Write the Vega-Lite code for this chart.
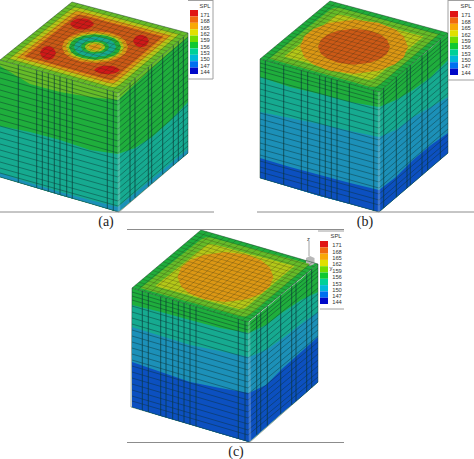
{"$schema":"https://vega.github.io/schema/vega-lite/v6.json","width":474,"height":459,"padding":0,"autosize":"none","background":"white","config":{"view":{"stroke":null}},
"datasets":{
"flat":[
{"g":"a0","c":"159","x":0,"y":60,"y2":60},{"g":"a0","c":"159","x":72,"y":2,"y2":80.2},{"g":"a0","c":"159","x":118,"y":14.3,"y2":93},{"g":"a0","c":"159","x":188,"y":33,"y2":33},
{"g":"b0","c":"156","x":260,"y":59,"y2":59},{"g":"b0","c":"156","x":330,"y":1,"y2":78.4},{"g":"b0","c":"156","x":379,"y":14.3,"y2":92},{"g":"b0","c":"156","x":448,"y":33,"y2":33},
{"g":"c0","c":"156","x":132,"y":288,"y2":288},{"g":"c0","c":"156","x":201,"y":230,"y2":308.2},{"g":"c0","c":"156","x":248,"y":243.6,"y2":322},{"g":"c0","c":"156","x":318,"y":264,"y2":264},
{"g":"a1","c":"159","x":0,"y":60,"y2":177},{"g":"a1","c":"159","x":30,"y":68.4,"y2":186},{"g":"a1","c":"159","x":60,"y":76.8,"y2":195},{"g":"a1","c":"159","x":90,"y":85.2,"y2":203.5},{"g":"a1","c":"159","x":118,"y":93,"y2":212},{"g":"a1","c":"159","x":135,"y":78.4,"y2":197.7},{"g":"a1","c":"159","x":152,"y":64,"y2":183.3},{"g":"a1","c":"159","x":170,"y":48.6,"y2":168.1},{"g":"a1","c":"159","x":188,"y":33,"y2":153},
{"g":"a2","c":"156","x":0,"y":66,"y2":177},{"g":"a2","c":"156","x":30,"y":84,"y2":186},{"g":"a2","c":"156","x":60,"y":92,"y2":195},{"g":"a2","c":"156","x":90,"y":97,"y2":203.5},{"g":"a2","c":"156","x":118,"y":100,"y2":212},{"g":"a2","c":"156","x":135,"y":84,"y2":197.7},{"g":"a2","c":"156","x":152,"y":68,"y2":183.3},{"g":"a2","c":"156","x":170,"y":52,"y2":168.1},{"g":"a2","c":"156","x":188,"y":37,"y2":153},
{"g":"a3","c":"153","x":0,"y":126,"y2":177},{"g":"a3","c":"153","x":30,"y":132,"y2":186},{"g":"a3","c":"153","x":60,"y":140,"y2":195},{"g":"a3","c":"153","x":90,"y":150,"y2":203.5},{"g":"a3","c":"153","x":118,"y":154,"y2":212},{"g":"a3","c":"153","x":135,"y":148,"y2":197.7},{"g":"a3","c":"153","x":152,"y":137,"y2":183.3},{"g":"a3","c":"153","x":170,"y":121,"y2":168.1},{"g":"a3","c":"153","x":188,"y":102,"y2":153},
{"g":"a4","c":"150","x":0,"y":173,"y2":177},{"g":"a4","c":"150","x":30,"y":183,"y2":186},{"g":"a4","c":"150","x":60,"y":192,"y2":195},{"g":"a4","c":"150","x":90,"y":200,"y2":203.5},{"g":"a4","c":"150","x":118,"y":207,"y2":212},{"g":"a4","c":"150","x":135,"y":193,"y2":197.7},{"g":"a4","c":"150","x":152,"y":179,"y2":183.3},{"g":"a4","c":"150","x":170,"y":164,"y2":168.1},{"g":"a4","c":"150","x":188,"y":149,"y2":153},
{"g":"b1","c":"156","x":260,"y":59,"y2":178},{"g":"b1","c":"156","x":290,"y":67,"y2":187},{"g":"b1","c":"156","x":320,"y":75.5,"y2":196},{"g":"b1","c":"156","x":350,"y":83.5,"y2":204},{"g":"b1","c":"156","x":379,"y":92,"y2":212},{"g":"b1","c":"156","x":396,"y":77,"y2":197.5},{"g":"b1","c":"156","x":413,"y":63,"y2":183},{"g":"b1","c":"156","x":431,"y":48,"y2":167.5},{"g":"b1","c":"156","x":448,"y":33,"y2":153},
{"g":"b2","c":"153","x":260,"y":77,"y2":178},{"g":"b2","c":"153","x":290,"y":87,"y2":187},{"g":"b2","c":"153","x":320,"y":94,"y2":196},{"g":"b2","c":"153","x":350,"y":102,"y2":204},{"g":"b2","c":"153","x":379,"y":107,"y2":212},{"g":"b2","c":"153","x":396,"y":100,"y2":197.5},{"g":"b2","c":"153","x":413,"y":90,"y2":183},{"g":"b2","c":"153","x":431,"y":77,"y2":167.5},{"g":"b2","c":"153","x":448,"y":60,"y2":153},
{"g":"b3","c":"150","x":260,"y":112,"y2":178},{"g":"b3","c":"150","x":290,"y":118,"y2":187},{"g":"b3","c":"150","x":320,"y":124,"y2":196},{"g":"b3","c":"150","x":350,"y":131,"y2":204},{"g":"b3","c":"150","x":379,"y":137,"y2":212},{"g":"b3","c":"150","x":396,"y":130,"y2":197.5},{"g":"b3","c":"150","x":413,"y":117,"y2":183},{"g":"b3","c":"150","x":431,"y":107,"y2":167.5},{"g":"b3","c":"150","x":448,"y":97,"y2":153},
{"g":"b4","c":"147","x":260,"y":158,"y2":178},{"g":"b4","c":"147","x":290,"y":167,"y2":187},{"g":"b4","c":"147","x":320,"y":175,"y2":196},{"g":"b4","c":"147","x":350,"y":183,"y2":204},{"g":"b4","c":"147","x":379,"y":190,"y2":212},{"g":"b4","c":"147","x":396,"y":177,"y2":197.5},{"g":"b4","c":"147","x":413,"y":160,"y2":183},{"g":"b4","c":"147","x":431,"y":145,"y2":167.5},{"g":"b4","c":"147","x":448,"y":133,"y2":153},
{"g":"c1","c":"156","x":132,"y":288,"y2":407},{"g":"c1","c":"156","x":161,"y":296.5,"y2":416},{"g":"c1","c":"156","x":190,"y":305,"y2":424.5},{"g":"c1","c":"156","x":220,"y":313.5,"y2":433.5},{"g":"c1","c":"156","x":249,"y":322,"y2":442},{"g":"c1","c":"156","x":266,"y":308,"y2":427},{"g":"c1","c":"156","x":283,"y":293.5,"y2":412},{"g":"c1","c":"156","x":301,"y":279,"y2":397},{"g":"c1","c":"156","x":318,"y":264,"y2":382},
{"g":"c2","c":"153","x":132,"y":305,"y2":407},{"g":"c2","c":"153","x":161,"y":312,"y2":416},{"g":"c2","c":"153","x":190,"y":320,"y2":424.5},{"g":"c2","c":"153","x":220,"y":328,"y2":433.5},{"g":"c2","c":"153","x":249,"y":333,"y2":442},{"g":"c2","c":"153","x":266,"y":325,"y2":427},{"g":"c2","c":"153","x":283,"y":312,"y2":412},{"g":"c2","c":"153","x":301,"y":300,"y2":397},{"g":"c2","c":"153","x":318,"y":292,"y2":382},
{"g":"c3","c":"150","x":132,"y":327,"y2":407},{"g":"c3","c":"150","x":161,"y":336,"y2":416},{"g":"c3","c":"150","x":190,"y":345,"y2":424.5},{"g":"c3","c":"150","x":220,"y":351,"y2":433.5},{"g":"c3","c":"150","x":249,"y":357,"y2":442},{"g":"c3","c":"150","x":266,"y":350,"y2":427},{"g":"c3","c":"150","x":283,"y":338,"y2":412},{"g":"c3","c":"150","x":301,"y":324,"y2":397},{"g":"c3","c":"150","x":318,"y":312,"y2":382},
{"g":"c4","c":"147","x":132,"y":362,"y2":407},{"g":"c4","c":"147","x":161,"y":372,"y2":416},{"g":"c4","c":"147","x":190,"y":382,"y2":424.5},{"g":"c4","c":"147","x":220,"y":388,"y2":433.5},{"g":"c4","c":"147","x":249,"y":393,"y2":442},{"g":"c4","c":"147","x":266,"y":385,"y2":427},{"g":"c4","c":"147","x":283,"y":368,"y2":412},{"g":"c4","c":"147","x":301,"y":352,"y2":397},{"g":"c4","c":"147","x":318,"y":337,"y2":382},
{"g":"k","c":"grey","x":306,"y":258,"y2":264},{"g":"k","c":"grey","x":310,"y":256,"y2":266},{"g":"k","c":"grey","x":314.5,"y":258,"y2":264}
],
"round":[
{"g":"a.9","c":"162","x":9.4,"y":58.7,"y2":58.7},{"g":"a.9","c":"162","x":22,"y":48.5,"y2":62.2},{"g":"a.9","c":"162","x":65.2,"y":13.7,"y2":74.3},{"g":"a.9","c":"162","x":74.2,"y":6.5,"y2":76.7},{"g":"a.9","c":"162","x":83.2,"y":8.9,"y2":79.4},{"g":"a.9","c":"162","x":106.6,"y":15.1,"y2":85.8},{"g":"a.9","c":"162","x":115.6,"y":17.5,"y2":88.4},{"g":"a.9","c":"162","x":124.6,"y":20,"y2":80.6},{"g":"a.9","c":"162","x":166,"y":30.9,"y2":45.2},{"g":"a.9","c":"162","x":178.6,"y":34.4,"y2":34.4},
{"g":"a.8","c":"165","x":16.9,"y":57.6,"y2":57.6},{"g":"a.8","c":"165","x":28.4,"y":48.3,"y2":60.8},{"g":"a.8","c":"165","x":67.8,"y":16.6,"y2":71.8},{"g":"a.8","c":"165","x":76,"y":10,"y2":74.1},{"g":"a.8","c":"165","x":84.2,"y":12.2,"y2":76.4},{"g":"a.8","c":"165","x":105.5,"y":17.9,"y2":82.3},{"g":"a.8","c":"165","x":113.7,"y":20.1,"y2":84.6},{"g":"a.8","c":"165","x":121.9,"y":22.3,"y2":77.6},{"g":"a.8","c":"165","x":159.6,"y":32.3,"y2":45.3},{"g":"a.8","c":"165","x":171.1,"y":35.4,"y2":35.4},
{"g":"a.7","c":"168","x":24.4,"y":56.5,"y2":56.5},{"g":"a.7","c":"168","x":34.8,"y":48.1,"y2":59.4},{"g":"a.7","c":"168","x":70.3,"y":19.5,"y2":69.4},{"g":"a.7","c":"168","x":77.7,"y":13.6,"y2":71.4},{"g":"a.7","c":"168","x":85.1,"y":15.6,"y2":73.5},{"g":"a.7","c":"168","x":104.4,"y":20.7,"y2":78.8},{"g":"a.7","c":"168","x":111.8,"y":22.7,"y2":80.9},{"g":"a.7","c":"168","x":119.2,"y":24.7,"y2":74.5},{"g":"a.7","c":"168","x":153.2,"y":33.7,"y2":45.4},{"g":"a.7","c":"168","x":163.6,"y":36.5,"y2":36.5},
{"g":"b.9","c":"159","x":269.4,"y":58.7,"y2":58.7},{"g":"b.9","c":"159","x":282,"y":48.5,"y2":62.2},{"g":"b.9","c":"159","x":325.2,"y":13.7,"y2":74.3},{"g":"b.9","c":"159","x":334.2,"y":6.5,"y2":76.7},{"g":"b.9","c":"159","x":343.2,"y":8.9,"y2":79.4},{"g":"b.9","c":"159","x":366.6,"y":15.1,"y2":85.8},{"g":"b.9","c":"159","x":375.6,"y":17.5,"y2":88.4},{"g":"b.9","c":"159","x":384.6,"y":20,"y2":80.6},{"g":"b.9","c":"159","x":426,"y":30.9,"y2":45.2},{"g":"b.9","c":"159","x":438.6,"y":34.4,"y2":34.4},
{"g":"b.7","c":"162","x":284.4,"y":56.5,"y2":56.5},{"g":"b.7","c":"162","x":294.8,"y":48.1,"y2":59.4},{"g":"b.7","c":"162","x":330.3,"y":19.5,"y2":69.4},{"g":"b.7","c":"162","x":337.7,"y":13.6,"y2":71.4},{"g":"b.7","c":"162","x":345.1,"y":15.6,"y2":73.5},{"g":"b.7","c":"162","x":364.4,"y":20.7,"y2":78.8},{"g":"b.7","c":"162","x":371.8,"y":22.7,"y2":80.9},{"g":"b.7","c":"162","x":379.2,"y":24.7,"y2":74.5},{"g":"b.7","c":"162","x":413.2,"y":33.7,"y2":45.4},{"g":"b.7","c":"162","x":423.6,"y":36.5,"y2":36.5},
{"g":"c.9","c":"159","x":140.4,"y":288.2,"y2":288.2},{"g":"c.9","c":"159","x":153,"y":278,"y2":291.7},{"g":"c.9","c":"159","x":196.2,"y":243.2,"y2":303.8},{"g":"c.9","c":"159","x":205.2,"y":236,"y2":306.2},{"g":"c.9","c":"159","x":214.2,"y":238.4,"y2":308.9},{"g":"c.9","c":"159","x":237.6,"y":244.6,"y2":315.3},{"g":"c.9","c":"159","x":246.6,"y":247,"y2":317.9},{"g":"c.9","c":"159","x":255.6,"y":249.5,"y2":310.1},{"g":"c.9","c":"159","x":297,"y":260.4,"y2":274.7},{"g":"c.9","c":"159","x":309.6,"y":263.9,"y2":263.9},
{"g":"c.7","c":"162","x":155.4,"y":286,"y2":286},{"g":"c.7","c":"162","x":165.8,"y":277.6,"y2":288.9},{"g":"c.7","c":"162","x":201.3,"y":249,"y2":298.9},{"g":"c.7","c":"162","x":208.7,"y":243.1,"y2":300.9},{"g":"c.7","c":"162","x":216.1,"y":245.1,"y2":303},{"g":"c.7","c":"162","x":235.4,"y":250.2,"y2":308.3},{"g":"c.7","c":"162","x":242.8,"y":252.2,"y2":310.4},{"g":"c.7","c":"162","x":250.2,"y":254.2,"y2":304},{"g":"c.7","c":"162","x":284.2,"y":263.2,"y2":274.4},{"g":"c.7","c":"162","x":294.6,"y":266,"y2":266},
{"g":"p1","c":"171","x":70,"y":24,"y2":24},{"g":"p1","c":"171","x":73.6,"y":19.4,"y2":28.6},{"g":"p1","c":"171","x":82,"y":18,"y2":30},{"g":"p1","c":"171","x":90.4,"y":19.4,"y2":28.6},{"g":"p1","c":"171","x":94,"y":24,"y2":24},
{"g":"p2","c":"171","x":133,"y":41,"y2":41},{"g":"p2","c":"171","x":135.4,"y":36,"y2":46},{"g":"p2","c":"171","x":141,"y":34.5,"y2":47.5},{"g":"p2","c":"171","x":146.6,"y":36,"y2":46},{"g":"p2","c":"171","x":149,"y":41,"y2":41},
{"g":"p3","c":"171","x":94,"y":70,"y2":70},{"g":"p3","c":"171","x":97.9,"y":66.5,"y2":73.5},{"g":"p3","c":"171","x":107,"y":65.5,"y2":74.5},{"g":"p3","c":"171","x":116.1,"y":66.5,"y2":73.5},{"g":"p3","c":"171","x":120,"y":70,"y2":70},
{"g":"p4","c":"171","x":40,"y":53,"y2":53},{"g":"p4","c":"171","x":42.4,"y":47.5,"y2":58.5},{"g":"p4","c":"171","x":48,"y":45.5,"y2":60.5},{"g":"p4","c":"171","x":53.6,"y":47.5,"y2":58.5},{"g":"p4","c":"171","x":56,"y":53,"y2":53}
],
"ell":[
{"g":"e1","c":"165","x":62,"y":47,"y2":47},{"g":"e1","c":"165","x":64.6,"y":40.7,"y2":53.3},{"g":"e1","c":"165","x":70.2,"y":36.4,"y2":57.6},{"g":"e1","c":"165","x":80.2,"y":32.7,"y2":61.3},{"g":"e1","c":"165","x":95,"y":30.9,"y2":63.1},{"g":"e1","c":"165","x":109.8,"y":32.7,"y2":61.3},{"g":"e1","c":"165","x":119.8,"y":36.4,"y2":57.6},{"g":"e1","c":"165","x":125.4,"y":40.7,"y2":53.3},{"g":"e1","c":"165","x":128,"y":47,"y2":47},
{"g":"e2","c":"162","x":66,"y":47,"y2":47},{"g":"e2","c":"162","x":68.3,"y":41.5,"y2":52.5},{"g":"e2","c":"162","x":73.2,"y":37.7,"y2":56.3},{"g":"e2","c":"162","x":82,"y":34.5,"y2":59.5},{"g":"e2","c":"162","x":95,"y":32.9,"y2":61.1},{"g":"e2","c":"162","x":108,"y":34.5,"y2":59.5},{"g":"e2","c":"162","x":116.8,"y":37.7,"y2":56.3},{"g":"e2","c":"162","x":121.7,"y":41.5,"y2":52.5},{"g":"e2","c":"162","x":124,"y":47,"y2":47},
{"g":"e3","c":"156","x":69,"y":47,"y2":47},{"g":"e3","c":"156","x":71.1,"y":42,"y2":52},{"g":"e3","c":"156","x":75.5,"y":38.6,"y2":55.4},{"g":"e3","c":"156","x":83.3,"y":35.7,"y2":58.3},{"g":"e3","c":"156","x":95,"y":34.3,"y2":59.7},{"g":"e3","c":"156","x":106.7,"y":35.7,"y2":58.3},{"g":"e3","c":"156","x":114.5,"y":38.6,"y2":55.4},{"g":"e3","c":"156","x":118.9,"y":42,"y2":52},{"g":"e3","c":"156","x":121,"y":47,"y2":47},
{"g":"e4","c":"153","x":74,"y":47,"y2":47},{"g":"e4","c":"153","x":75.7,"y":43,"y2":51},{"g":"e4","c":"153","x":79.3,"y":40.3,"y2":53.7},{"g":"e4","c":"153","x":85.6,"y":37.9,"y2":56.1},{"g":"e4","c":"153","x":95,"y":36.8,"y2":57.2},{"g":"e4","c":"153","x":104.4,"y":37.9,"y2":56.1},{"g":"e4","c":"153","x":110.8,"y":40.3,"y2":53.7},{"g":"e4","c":"153","x":114.3,"y":43,"y2":51},{"g":"e4","c":"153","x":116,"y":47,"y2":47},
{"g":"e5","c":"156","x":81,"y":47,"y2":47},{"g":"e5","c":"156","x":82.1,"y":44.3,"y2":49.7},{"g":"e5","c":"156","x":84.5,"y":42.5,"y2":51.5},{"g":"e5","c":"156","x":88.7,"y":40.9,"y2":53.1},{"g":"e5","c":"156","x":95,"y":40.2,"y2":53.8},{"g":"e5","c":"156","x":101.3,"y":40.9,"y2":53.1},{"g":"e5","c":"156","x":105.5,"y":42.5,"y2":51.5},{"g":"e5","c":"156","x":107.9,"y":44.3,"y2":49.7},{"g":"e5","c":"156","x":109,"y":47,"y2":47},
{"g":"e6","c":"162","x":85,"y":47,"y2":47},{"g":"e6","c":"162","x":85.8,"y":45.1,"y2":48.9},{"g":"e6","c":"162","x":87.5,"y":43.8,"y2":50.2},{"g":"e6","c":"162","x":90.5,"y":42.6,"y2":51.4},{"g":"e6","c":"162","x":95,"y":42.1,"y2":51.9},{"g":"e6","c":"162","x":99.5,"y":42.6,"y2":51.4},{"g":"e6","c":"162","x":102.5,"y":43.8,"y2":50.2},{"g":"e6","c":"162","x":104.2,"y":45.1,"y2":48.9},{"g":"e6","c":"162","x":105,"y":47,"y2":47},
{"g":"e7","c":"165","x":89,"y":47,"y2":47},{"g":"e7","c":"165","x":89.5,"y":45.9,"y2":48.1},{"g":"e7","c":"165","x":90.5,"y":45.1,"y2":48.9},{"g":"e7","c":"165","x":92.3,"y":44.4,"y2":49.6},{"g":"e7","c":"165","x":95,"y":44.1,"y2":49.9},{"g":"e7","c":"165","x":97.7,"y":44.4,"y2":49.6},{"g":"e7","c":"165","x":99.5,"y":45.1,"y2":48.9},{"g":"e7","c":"165","x":100.5,"y":45.9,"y2":48.1},{"g":"e7","c":"165","x":101,"y":47,"y2":47},
{"g":"f1","c":"165","x":300,"y":46.7,"y2":46.7},{"g":"f1","c":"165","x":304.3,"y":36.2,"y2":57.2},{"g":"f1","c":"165","x":313.5,"y":28.9,"y2":64.5},{"g":"f1","c":"165","x":329.7,"y":22.7,"y2":70.7},{"g":"f1","c":"165","x":354,"y":19.7,"y2":73.7},{"g":"f1","c":"165","x":378.3,"y":22.7,"y2":70.7},{"g":"f1","c":"165","x":394.5,"y":28.9,"y2":64.5},{"g":"f1","c":"165","x":403.7,"y":36.2,"y2":57.2},{"g":"f1","c":"165","x":408,"y":46.7,"y2":46.7},
{"g":"f2","c":"168","x":318,"y":46.7,"y2":46.7},{"g":"f2","c":"168","x":320.9,"y":39.7,"y2":53.7},{"g":"f2","c":"168","x":327,"y":34.8,"y2":58.6},{"g":"f2","c":"168","x":337.8,"y":30.7,"y2":62.7},{"g":"f2","c":"168","x":354,"y":28.7,"y2":64.7},{"g":"f2","c":"168","x":370.2,"y":30.7,"y2":62.7},{"g":"f2","c":"168","x":381,"y":34.8,"y2":58.6},{"g":"f2","c":"168","x":387.1,"y":39.7,"y2":53.7},{"g":"f2","c":"168","x":390,"y":46.7,"y2":46.7},
{"g":"h1","c":"165","x":177.5,"y":277,"y2":277},{"g":"h1","c":"165","x":181.3,"y":267.3,"y2":286.8},{"g":"h1","c":"165","x":189.5,"y":260.5,"y2":293.5},{"g":"h1","c":"165","x":203.9,"y":254.8,"y2":299.3},{"g":"h1","c":"165","x":225.5,"y":252,"y2":302},{"g":"h1","c":"165","x":247.1,"y":254.8,"y2":299.3},{"g":"h1","c":"165","x":261.5,"y":260.5,"y2":293.5},{"g":"h1","c":"165","x":269.7,"y":267.3,"y2":286.8},{"g":"h1","c":"165","x":273.5,"y":277,"y2":277}
],
"top":[
{"x":68.4,"y":4.9,"x2":184.5,"y2":36},{"x":64.8,"y":7.8,"x2":181,"y2":39},{"x":61.2,"y":10.7,"x2":177.5,"y2":42},{"x":57.6,"y":13.6,"x2":174,"y2":45},{"x":54,"y":16.5,"x2":170.5,"y2":48},{"x":50.4,"y":19.4,"x2":167,"y2":51},{"x":46.8,"y":22.3,"x2":163.5,"y2":54},{"x":43.2,"y":25.2,"x2":160,"y2":57},{"x":39.6,"y":28.1,"x2":156.5,"y2":60},{"x":36,"y":31,"x2":153,"y2":63},{"x":32.4,"y":33.9,"x2":149.5,"y2":66},{"x":28.8,"y":36.8,"x2":146,"y2":69},{"x":25.2,"y":39.7,"x2":142.5,"y2":72},{"x":21.6,"y":42.6,"x2":139,"y2":75},{"x":18,"y":45.5,"x2":135.5,"y2":78},{"x":14.4,"y":48.4,"x2":132,"y2":81},{"x":10.8,"y":51.3,"x2":128.5,"y2":84},{"x":7.2,"y":54.2,"x2":125,"y2":87},{"x":3.6,"y":57.1,"x2":121.5,"y2":90},
{"x":77.8,"y":3.6,"x2":5.9,"y2":61.7},{"x":83.6,"y":5.1,"x2":11.8,"y2":63.3},{"x":89.4,"y":6.7,"x2":17.7,"y2":65},{"x":95.2,"y":8.2,"x2":23.6,"y2":66.6},{"x":101,"y":9.8,"x2":29.5,"y2":68.3},{"x":106.8,"y":11.3,"x2":35.4,"y2":69.9},{"x":112.6,"y":12.9,"x2":41.3,"y2":71.6},{"x":118.4,"y":14.4,"x2":47.2,"y2":73.2},{"x":124.2,"y":16,"x2":53.1,"y2":74.9},{"x":130,"y":17.5,"x2":59,"y2":76.5},{"x":135.8,"y":19.1,"x2":64.9,"y2":78.2},{"x":141.6,"y":20.6,"x2":70.8,"y2":79.8},{"x":147.4,"y":22.2,"x2":76.7,"y2":81.5},{"x":153.2,"y":23.7,"x2":82.6,"y2":83.1},{"x":159,"y":25.3,"x2":88.5,"y2":84.8},{"x":164.8,"y":26.8,"x2":94.4,"y2":86.4},{"x":170.6,"y":28.4,"x2":100.3,"y2":88.1},{"x":176.4,"y":29.9,"x2":106.2,"y2":89.7},{"x":182.2,"y":31.5,"x2":112.1,"y2":91.4},
{"x":326.5,"y":3.9,"x2":444.6,"y2":36},{"x":323,"y":6.8,"x2":441.1,"y2":38.9},{"x":319.5,"y":9.7,"x2":437.7,"y2":41.9},{"x":316,"y":12.6,"x2":434.2,"y2":44.8},{"x":312.5,"y":15.5,"x2":430.8,"y2":47.8},{"x":309,"y":18.4,"x2":427.3,"y2":50.7},{"x":305.5,"y":21.3,"x2":423.9,"y2":53.7},{"x":302,"y":24.2,"x2":420.4,"y2":56.6},{"x":298.5,"y":27.1,"x2":417,"y2":59.6},{"x":295,"y":30,"x2":413.5,"y2":62.5},{"x":291.5,"y":32.9,"x2":410.1,"y2":65.5},{"x":288,"y":35.8,"x2":406.6,"y2":68.4},{"x":284.5,"y":38.7,"x2":403.2,"y2":71.4},{"x":281,"y":41.6,"x2":399.7,"y2":74.3},{"x":277.5,"y":44.5,"x2":396.3,"y2":77.3},{"x":274,"y":47.4,"x2":392.8,"y2":80.2},{"x":270.5,"y":50.3,"x2":389.4,"y2":83.2},{"x":267,"y":53.2,"x2":385.9,"y2":86.1},{"x":263.5,"y":56.1,"x2":382.5,"y2":89.1},
{"x":335.9,"y":2.6,"x2":266,"y2":60.7},{"x":341.8,"y":4.2,"x2":271.9,"y2":62.3},{"x":347.7,"y":5.8,"x2":277.9,"y2":64},{"x":353.6,"y":7.4,"x2":283.8,"y2":65.6},{"x":359.5,"y":9,"x2":289.8,"y2":67.3},{"x":365.4,"y":10.6,"x2":295.7,"y2":68.9},{"x":371.3,"y":12.2,"x2":301.7,"y2":70.6},{"x":377.2,"y":13.8,"x2":307.6,"y2":72.2},{"x":383.1,"y":15.4,"x2":313.6,"y2":73.9},{"x":389,"y":17,"x2":319.5,"y2":75.5},{"x":394.9,"y":18.6,"x2":325.5,"y2":77.2},{"x":400.8,"y":20.2,"x2":331.4,"y2":78.8},{"x":406.7,"y":21.8,"x2":337.4,"y2":80.5},{"x":412.6,"y":23.4,"x2":343.3,"y2":82.1},{"x":418.5,"y":25,"x2":349.3,"y2":83.8},{"x":424.4,"y":26.6,"x2":355.2,"y2":85.4},{"x":430.3,"y":28.2,"x2":361.2,"y2":87.1},{"x":436.2,"y":29.8,"x2":367.1,"y2":88.7},{"x":442.1,"y":31.4,"x2":373.1,"y2":90.4},
{"x":197.6,"y":232.9,"x2":314.5,"y2":266.9},{"x":194.1,"y":235.8,"x2":311,"y2":269.8},{"x":190.7,"y":238.7,"x2":307.5,"y2":272.7},{"x":187.2,"y":241.6,"x2":304,"y2":275.6},{"x":183.8,"y":244.5,"x2":300.5,"y2":278.5},{"x":180.3,"y":247.4,"x2":297,"y2":281.4},{"x":176.9,"y":250.3,"x2":293.5,"y2":284.3},{"x":173.4,"y":253.2,"x2":290,"y2":287.2},{"x":170,"y":256.1,"x2":286.5,"y2":290.1},{"x":166.5,"y":259,"x2":283,"y2":293},{"x":163.1,"y":261.9,"x2":279.5,"y2":295.9},{"x":159.6,"y":264.8,"x2":276,"y2":298.8},{"x":156.2,"y":267.7,"x2":272.5,"y2":301.7},{"x":152.7,"y":270.6,"x2":269,"y2":304.6},{"x":149.3,"y":273.5,"x2":265.5,"y2":307.5},{"x":145.8,"y":276.4,"x2":262,"y2":310.4},{"x":142.4,"y":279.3,"x2":258.5,"y2":313.3},{"x":138.9,"y":282.2,"x2":255,"y2":316.2},{"x":135.5,"y":285.1,"x2":251.5,"y2":319.1},
{"x":206.9,"y":231.7,"x2":137.8,"y2":289.7},{"x":212.7,"y":233.4,"x2":143.6,"y2":291.4},{"x":218.6,"y":235.1,"x2":149.4,"y2":293.1},{"x":224.4,"y":236.8,"x2":155.2,"y2":294.8},{"x":230.3,"y":238.5,"x2":161,"y2":296.5},{"x":236.1,"y":240.2,"x2":166.8,"y2":298.2},{"x":242,"y":241.9,"x2":172.6,"y2":299.9},{"x":247.8,"y":243.6,"x2":178.4,"y2":301.6},{"x":253.7,"y":245.3,"x2":184.2,"y2":303.3},{"x":259.5,"y":247,"x2":190,"y2":305},{"x":265.4,"y":248.7,"x2":195.8,"y2":306.7},{"x":271.2,"y":250.4,"x2":201.6,"y2":308.4},{"x":277.1,"y":252.1,"x2":207.4,"y2":310.1},{"x":282.9,"y":253.8,"x2":213.2,"y2":311.8},{"x":288.8,"y":255.5,"x2":219,"y2":313.5},{"x":294.6,"y":257.2,"x2":224.8,"y2":315.2},{"x":300.5,"y":258.9,"x2":230.6,"y2":316.9},{"x":306.3,"y":260.6,"x2":236.4,"y2":318.6},{"x":312.2,"y":262.3,"x2":242.2,"y2":320.3}
],
"hor":[
{"x":0,"y":64,"x2":118,"y2":97},{"x":0,"y":68,"x2":118,"y2":101},{"x":0,"y":72,"x2":118,"y2":105},{"x":0,"y":78,"x2":118,"y2":111},{"x":0,"y":84,"x2":118,"y2":117},{"x":0,"y":90,"x2":118,"y2":123},{"x":0,"y":96,"x2":118,"y2":129},{"x":0,"y":102,"x2":118,"y2":135},{"x":0,"y":108,"x2":118,"y2":141},{"x":0,"y":114,"x2":118,"y2":147},{"x":0,"y":120,"x2":118,"y2":153},{"x":0,"y":126,"x2":118,"y2":159},{"x":0,"y":132,"x2":118,"y2":165},{"x":0,"y":138,"x2":118,"y2":171},{"x":0,"y":144,"x2":118,"y2":177},{"x":0,"y":150,"x2":118,"y2":183},{"x":0,"y":156,"x2":118,"y2":189},{"x":0,"y":162,"x2":118,"y2":195},{"x":0,"y":168,"x2":118,"y2":201},{"x":0,"y":173,"x2":118,"y2":206},
{"x":118,"y":97,"x2":188,"y2":37},{"x":118,"y":101,"x2":188,"y2":41},{"x":118,"y":105,"x2":188,"y2":45},{"x":118,"y":111,"x2":188,"y2":51},{"x":118,"y":117,"x2":188,"y2":57},{"x":118,"y":123,"x2":188,"y2":63},{"x":118,"y":129,"x2":188,"y2":69},{"x":118,"y":135,"x2":188,"y2":75},{"x":118,"y":141,"x2":188,"y2":81},{"x":118,"y":147,"x2":188,"y2":87},{"x":118,"y":153,"x2":188,"y2":93},{"x":118,"y":159,"x2":188,"y2":99},{"x":118,"y":165,"x2":188,"y2":105},{"x":118,"y":171,"x2":188,"y2":111},{"x":118,"y":177,"x2":188,"y2":117},{"x":118,"y":183,"x2":188,"y2":123},{"x":118,"y":189,"x2":188,"y2":129},{"x":118,"y":195,"x2":188,"y2":135},{"x":118,"y":201,"x2":188,"y2":141},{"x":118,"y":206,"x2":188,"y2":146},
{"x":260,"y":63,"x2":379,"y2":96},{"x":260,"y":67,"x2":379,"y2":100},{"x":260,"y":71,"x2":379,"y2":104},{"x":260,"y":77,"x2":379,"y2":110},{"x":260,"y":83,"x2":379,"y2":116},{"x":260,"y":89,"x2":379,"y2":122},{"x":260,"y":95,"x2":379,"y2":128},{"x":260,"y":101,"x2":379,"y2":134},{"x":260,"y":107,"x2":379,"y2":140},{"x":260,"y":113,"x2":379,"y2":146},{"x":260,"y":119,"x2":379,"y2":152},{"x":260,"y":125,"x2":379,"y2":158},{"x":260,"y":131,"x2":379,"y2":164},{"x":260,"y":137,"x2":379,"y2":170},{"x":260,"y":143,"x2":379,"y2":176},{"x":260,"y":149,"x2":379,"y2":182},{"x":260,"y":155,"x2":379,"y2":188},{"x":260,"y":161,"x2":379,"y2":194},{"x":260,"y":167,"x2":379,"y2":200},{"x":260,"y":172,"x2":379,"y2":205},
{"x":379,"y":96,"x2":448,"y2":37},{"x":379,"y":100,"x2":448,"y2":41},{"x":379,"y":104,"x2":448,"y2":45},{"x":379,"y":110,"x2":448,"y2":51},{"x":379,"y":116,"x2":448,"y2":57},{"x":379,"y":122,"x2":448,"y2":63},{"x":379,"y":128,"x2":448,"y2":69},{"x":379,"y":134,"x2":448,"y2":75},{"x":379,"y":140,"x2":448,"y2":81},{"x":379,"y":146,"x2":448,"y2":87},{"x":379,"y":152,"x2":448,"y2":93},{"x":379,"y":158,"x2":448,"y2":99},{"x":379,"y":164,"x2":448,"y2":105},{"x":379,"y":170,"x2":448,"y2":111},{"x":379,"y":176,"x2":448,"y2":117},{"x":379,"y":182,"x2":448,"y2":123},{"x":379,"y":188,"x2":448,"y2":129},{"x":379,"y":194,"x2":448,"y2":135},{"x":379,"y":200,"x2":448,"y2":141},{"x":379,"y":205,"x2":448,"y2":146},
{"x":132,"y":292,"x2":248,"y2":326},{"x":132,"y":296,"x2":248,"y2":330},{"x":132,"y":300,"x2":248,"y2":334},{"x":132,"y":306,"x2":248,"y2":340},{"x":132,"y":312,"x2":248,"y2":346},{"x":132,"y":318,"x2":248,"y2":352},{"x":132,"y":324,"x2":248,"y2":358},{"x":132,"y":330,"x2":248,"y2":364},{"x":132,"y":336,"x2":248,"y2":370},{"x":132,"y":342,"x2":248,"y2":376},{"x":132,"y":348,"x2":248,"y2":382},{"x":132,"y":354,"x2":248,"y2":388},{"x":132,"y":360,"x2":248,"y2":394},{"x":132,"y":366,"x2":248,"y2":400},{"x":132,"y":372,"x2":248,"y2":406},{"x":132,"y":378,"x2":248,"y2":412},{"x":132,"y":384,"x2":248,"y2":418},{"x":132,"y":390,"x2":248,"y2":424},{"x":132,"y":396,"x2":248,"y2":430},{"x":132,"y":401,"x2":248,"y2":435},
{"x":248,"y":326,"x2":318,"y2":268},{"x":248,"y":330,"x2":318,"y2":272},{"x":248,"y":334,"x2":318,"y2":276},{"x":248,"y":340,"x2":318,"y2":282},{"x":248,"y":346,"x2":318,"y2":288},{"x":248,"y":352,"x2":318,"y2":294},{"x":248,"y":358,"x2":318,"y2":300},{"x":248,"y":364,"x2":318,"y2":306},{"x":248,"y":370,"x2":318,"y2":312},{"x":248,"y":376,"x2":318,"y2":318},{"x":248,"y":382,"x2":318,"y2":324},{"x":248,"y":388,"x2":318,"y2":330},{"x":248,"y":394,"x2":318,"y2":336},{"x":248,"y":400,"x2":318,"y2":342},{"x":248,"y":406,"x2":318,"y2":348},{"x":248,"y":412,"x2":318,"y2":354},{"x":248,"y":418,"x2":318,"y2":360},{"x":248,"y":424,"x2":318,"y2":366},{"x":248,"y":430,"x2":318,"y2":372},{"x":248,"y":435,"x2":318,"y2":377}
],
"ver":[
{"x":18.3,"y":65.1,"x2":18.3,"y2":182.4},{"x":36.7,"y":70.3,"x2":36.7,"y2":187.9},{"x":42.3,"y":71.8,"x2":42.3,"y2":189.6},{"x":48.3,"y":73.5,"x2":48.3,"y2":191.3},{"x":54.3,"y":75.2,"x2":54.3,"y2":193.1},{"x":60,"y":76.8,"x2":60,"y2":194.8},{"x":66.7,"y":78.7,"x2":66.7,"y2":196.8},{"x":72.3,"y":80.2,"x2":72.3,"y2":198.5},{"x":107.3,"y":90,"x2":107.3,"y2":208.9},{"x":113.3,"y":91.7,"x2":113.3,"y2":210.7},
{"x":130,"y":82.7,"x2":130,"y2":201.9},{"x":135,"y":78.4,"x2":135,"y2":197.7},{"x":148.3,"y":67,"x2":148.3,"y2":186.5},{"x":151.7,"y":64.1,"x2":151.7,"y2":183.6},{"x":162.7,"y":54.7,"x2":162.7,"y2":174.3},{"x":173.3,"y":45.6,"x2":173.3,"y2":165.4},{"x":178.3,"y":41.3,"x2":178.3,"y2":161.2},{"x":183.3,"y":37,"x2":183.3,"y2":157},
{"x":265.3,"y":60.5,"x2":265.3,"y2":179.5},{"x":283.7,"y":65.6,"x2":283.7,"y2":184.8},{"x":301.3,"y":70.4,"x2":301.3,"y2":189.8},{"x":307.7,"y":72.2,"x2":307.7,"y2":191.6},{"x":319.7,"y":75.5,"x2":319.7,"y2":195.1},{"x":325.3,"y":77.1,"x2":325.3,"y2":196.7},{"x":331.3,"y":78.7,"x2":331.3,"y2":198.4},{"x":337,"y":80.3,"x2":337,"y2":200},{"x":349.3,"y":83.7,"x2":349.3,"y2":203.5},{"x":373.7,"y":90.5,"x2":373.7,"y2":210.5},
{"x":383.7,"y":88,"x2":383.7,"y2":208},{"x":396.3,"y":77.2,"x2":396.3,"y2":197.2},{"x":407,"y":68.1,"x2":407,"y2":188.1},{"x":410.3,"y":65.2,"x2":410.3,"y2":185.2},{"x":422,"y":55.2,"x2":422,"y2":175.2},{"x":427.7,"y":50.4,"x2":427.7,"y2":170.4},{"x":440.3,"y":39.6,"x2":440.3,"y2":159.6},
{"x":142.3,"y":291,"x2":142.3,"y2":410.1},{"x":148.3,"y":292.8,"x2":148.3,"y2":411.9},{"x":160.7,"y":296.4,"x2":160.7,"y2":415.6},{"x":166,"y":298,"x2":166,"y2":417.2},{"x":172.7,"y":299.9,"x2":172.7,"y2":419.2},{"x":178.3,"y":301.6,"x2":178.3,"y2":420.9},{"x":184,"y":303.2,"x2":184,"y2":422.6},{"x":190,"y":305,"x2":190,"y2":424.4},{"x":196,"y":306.8,"x2":196,"y2":426.2},{"x":238.3,"y":319.1,"x2":238.3,"y2":438.9},{"x":245,"y":321.1,"x2":245,"y2":440.9},
{"x":256.7,"y":314.8,"x2":256.7,"y2":434.6},{"x":260.7,"y":311.5,"x2":260.7,"y2":431.2},{"x":267.3,"y":306,"x2":267.3,"y2":425.6},{"x":280.7,"y":294.9,"x2":280.7,"y2":414.2},{"x":291.7,"y":285.7,"x2":291.7,"y2":404.9},{"x":296,"y":282.2,"x2":296,"y2":401.2},{"x":306.7,"y":273.3,"x2":306.7,"y2":392.1},{"x":311.7,"y":269.1,"x2":311.7,"y2":387.9}
],
"edge":[
{"x":72,"y":2,"x2":188,"y2":33},{"x":72,"y":2,"x2":0,"y2":60},{"x":0,"y":60,"x2":118,"y2":93},{"x":118,"y":93,"x2":188,"y2":33},{"x":0,"y":177,"x2":119,"y2":212},{"x":119,"y":212,"x2":188,"y2":153},{"x":188,"y":33,"x2":188,"y2":153},
{"x":330,"y":1,"x2":448,"y2":33},{"x":330,"y":1,"x2":260,"y2":59},{"x":260,"y":59,"x2":379,"y2":92},{"x":379,"y":92,"x2":448,"y2":33},{"x":260,"y":59,"x2":260,"y2":178},{"x":260,"y":178,"x2":379,"y2":212},{"x":379,"y":212,"x2":448,"y2":153},{"x":448,"y":33,"x2":448,"y2":153},
{"x":201,"y":230,"x2":318,"y2":264},{"x":201,"y":230,"x2":132,"y2":288},{"x":132,"y":288,"x2":248,"y2":322},{"x":248,"y":322,"x2":318,"y2":264},{"x":132,"y":288,"x2":131,"y2":407},{"x":131,"y":407,"x2":250,"y2":442},{"x":250,"y":442,"x2":318,"y2":382},{"x":318,"y":264,"x2":318,"y2":382}
],
"light":[
{"x":118.5,"y":93,"x2":119,"y2":212},{"x":379,"y":92,"x2":379,"y2":212},{"x":249,"y":322,"x2":250,"y2":442}
],
"grey":[
{"x":0,"y":212,"x2":214,"y2":212},{"x":257,"y":212,"x2":474,"y2":212},{"x":127,"y":229.5,"x2":344,"y2":229.5},{"x":127,"y":442.5,"x2":344,"y2":442.5}
],
"box":[
{"x":188,"y":0.5,"x2":213,"y2":0.5},{"x":213,"y":0,"x2":213,"y2":79},{"x":188,"y":79,"x2":213,"y2":79},
{"x":448,"y":0.5,"x2":474,"y2":0.5},{"x":448,"y":0,"x2":448,"y2":33},{"x":448,"y":80,"x2":474,"y2":80},
{"x":318,"y":231,"x2":344,"y2":231},{"x":320,"y":309,"x2":344,"y2":309},{"x":309,"y":241,"x2":309,"y2":256}
],
"leg":[
{"c":"L171","x":190,"x2":198,"y":10,"y2":16.4},{"c":"L168","x":190,"x2":198,"y":16.4,"y2":22.8},{"c":"L165","x":190,"x2":198,"y":22.8,"y2":29.2},{"c":"L162","x":190,"x2":198,"y":29.2,"y2":35.6},{"c":"L159","x":190,"x2":198,"y":35.6,"y2":42},{"c":"L156","x":190,"x2":198,"y":42,"y2":48.4},{"c":"L153","x":190,"x2":198,"y":48.4,"y2":54.8},{"c":"L150","x":190,"x2":198,"y":54.8,"y2":61.2},{"c":"L147","x":190,"x2":198,"y":61.2,"y2":67.6},{"c":"L144","x":190,"x2":198,"y":67.6,"y2":74},
{"c":"L171","x":450,"x2":458,"y":11,"y2":17.4},{"c":"L168","x":450,"x2":458,"y":17.4,"y2":23.8},{"c":"L165","x":450,"x2":458,"y":23.8,"y2":30.2},{"c":"L162","x":450,"x2":458,"y":30.2,"y2":36.6},{"c":"L159","x":450,"x2":458,"y":36.6,"y2":43},{"c":"L156","x":450,"x2":458,"y":43,"y2":49.4},{"c":"L153","x":450,"x2":458,"y":49.4,"y2":55.8},{"c":"L150","x":450,"x2":458,"y":55.8,"y2":62.2},{"c":"L147","x":450,"x2":458,"y":62.2,"y2":68.6},{"c":"L144","x":450,"x2":458,"y":68.6,"y2":75},
{"c":"L171","x":320,"x2":328,"y":241,"y2":247.3},{"c":"L168","x":320,"x2":328,"y":247.3,"y2":253.6},{"c":"L165","x":320,"x2":328,"y":253.6,"y2":259.9},{"c":"L162","x":320,"x2":328,"y":259.9,"y2":266.2},{"c":"L159","x":320,"x2":328,"y":266.2,"y2":272.5},{"c":"L156","x":320,"x2":328,"y":272.5,"y2":278.8},{"c":"L153","x":320,"x2":328,"y":278.8,"y2":285.1},{"c":"L150","x":320,"x2":328,"y":285.1,"y2":291.4},{"c":"L147","x":320,"x2":328,"y":291.4,"y2":297.7},{"c":"L144","x":320,"x2":328,"y":297.7,"y2":304}
],
"txt":[
{"t":"SPL","x":205,"y":5.5},{"t":"171","x":205,"y":15},{"t":"168","x":205,"y":21},{"t":"165","x":205,"y":27.5},{"t":"162","x":205,"y":34},{"t":"159","x":205,"y":40},{"t":"156","x":205,"y":47},{"t":"153","x":205,"y":53},{"t":"150","x":205,"y":59},{"t":"147","x":205,"y":65.5},{"t":"144","x":205,"y":72},
{"t":"SPL","x":466,"y":6},{"t":"171","x":466,"y":15},{"t":"168","x":466,"y":21.5},{"t":"165","x":466,"y":28},{"t":"162","x":466,"y":34.5},{"t":"159","x":466,"y":41},{"t":"156","x":466,"y":47},{"t":"153","x":466,"y":53.5},{"t":"150","x":466,"y":60},{"t":"147","x":466,"y":66},{"t":"144","x":466,"y":73},
{"t":"SPL","x":336,"y":236},{"t":"171","x":337,"y":245},{"t":"168","x":337,"y":251.7},{"t":"165","x":337,"y":257.7},{"t":"162","x":337,"y":264.3},{"t":"159","x":337,"y":270.7},{"t":"156","x":337,"y":277.3},{"t":"153","x":337,"y":283.7},{"t":"150","x":337,"y":290},{"t":"147","x":337,"y":296.3},{"t":"144","x":337,"y":302.3},
{"t":"z","x":308.5,"y":239},{"t":"y","x":331,"y":268}
],
"cap":[{"t":"(a)","x":106,"y":222},{"t":"(b)","x":365,"y":222},{"t":"(c)","x":236,"y":452}]
},
"encoding":{
"x":{"field":"x","type":"quantitative","axis":null,"scale":{"domain":[0,474],"nice":false,"zero":false}},
"y":{"field":"y","type":"quantitative","axis":null,"scale":{"domain":[0,459],"reverse":true,"nice":false,"zero":false}}
},
"layer":[
{"data":{"name":"flat"},"mark":{"type":"area","clip":true},"encoding":{"y2":{"field":"y2"},"detail":{"field":"g"},"fill":{"field":"c","type":"nominal","legend":null,"scale":{"domain":["171","168","165","162","159","156","153","150","147","144","grey","L171","L168","L165","L162","L159","L156","L153","L150","L147","L144"],"range":["#d01818","#cc5a16","#dc9814","#b4c818","#66bc28","#1fae3c","#16aa90","#1c90b8","#0c50c0","#0818b8","#b8b8b8","#e01414","#f06a10","#f8a808","#e0e000","#70dc00","#10c830","#00d098","#00b8d8","#0070f0","#0008c8"]}}}},
{"data":{"name":"round"},"mark":{"type":"area","interpolate":"basis"},"encoding":{"y2":{"field":"y2"},"detail":{"field":"g"},"fill":{"field":"c","type":"nominal","legend":null}}},
{"data":{"name":"ell"},"mark":{"type":"area"},"encoding":{"y2":{"field":"y2"},"detail":{"field":"g"},"fill":{"field":"c","type":"nominal","legend":null}}},
{"data":{"name":"top"},"mark":{"type":"rule","color":"#2a2a18","opacity":0.45,"strokeWidth":0.6},"encoding":{"x2":{"field":"x2"},"y2":{"field":"y2"}}},
{"data":{"name":"hor"},"mark":{"type":"rule","color":"#0c2c2c","opacity":0.6,"strokeWidth":0.7},"encoding":{"x2":{"field":"x2"},"y2":{"field":"y2"}}},
{"data":{"name":"ver"},"mark":{"type":"rule","color":"#0a3434","opacity":0.75,"strokeWidth":0.9},"encoding":{"x2":{"field":"x2"},"y2":{"field":"y2"}}},
{"data":{"name":"edge"},"mark":{"type":"rule","color":"#1a3a2a","opacity":0.6,"strokeWidth":0.8},"encoding":{"x2":{"field":"x2"},"y2":{"field":"y2"}}},
{"data":{"name":"light"},"mark":{"type":"rule","color":"#ffffff","opacity":0.22,"strokeWidth":2.5},"encoding":{"x2":{"field":"x2"},"y2":{"field":"y2"}}},
{"data":{"name":"grey"},"mark":{"type":"rule","color":"#8c8c8c","strokeWidth":1},"encoding":{"x2":{"field":"x2"},"y2":{"field":"y2"}}},
{"data":{"name":"box"},"mark":{"type":"rule","color":"#a0a0a0","strokeWidth":1},"encoding":{"x2":{"field":"x2"},"y2":{"field":"y2"}}},
{"data":{"name":"leg"},"mark":{"type":"rect"},"encoding":{"x2":{"field":"x2"},"y2":{"field":"y2"},"fill":{"field":"c","type":"nominal","legend":null}}},
{"data":{"name":"txt"},"mark":{"type":"text","font":"Liberation Sans","fontSize":5.8,"color":"#333333"},"encoding":{"text":{"field":"t"}}},
{"data":{"name":"cap"},"mark":{"type":"text","font":"Liberation Serif","fontSize":14,"color":"#222222"},"encoding":{"text":{"field":"t"}}}
]}
